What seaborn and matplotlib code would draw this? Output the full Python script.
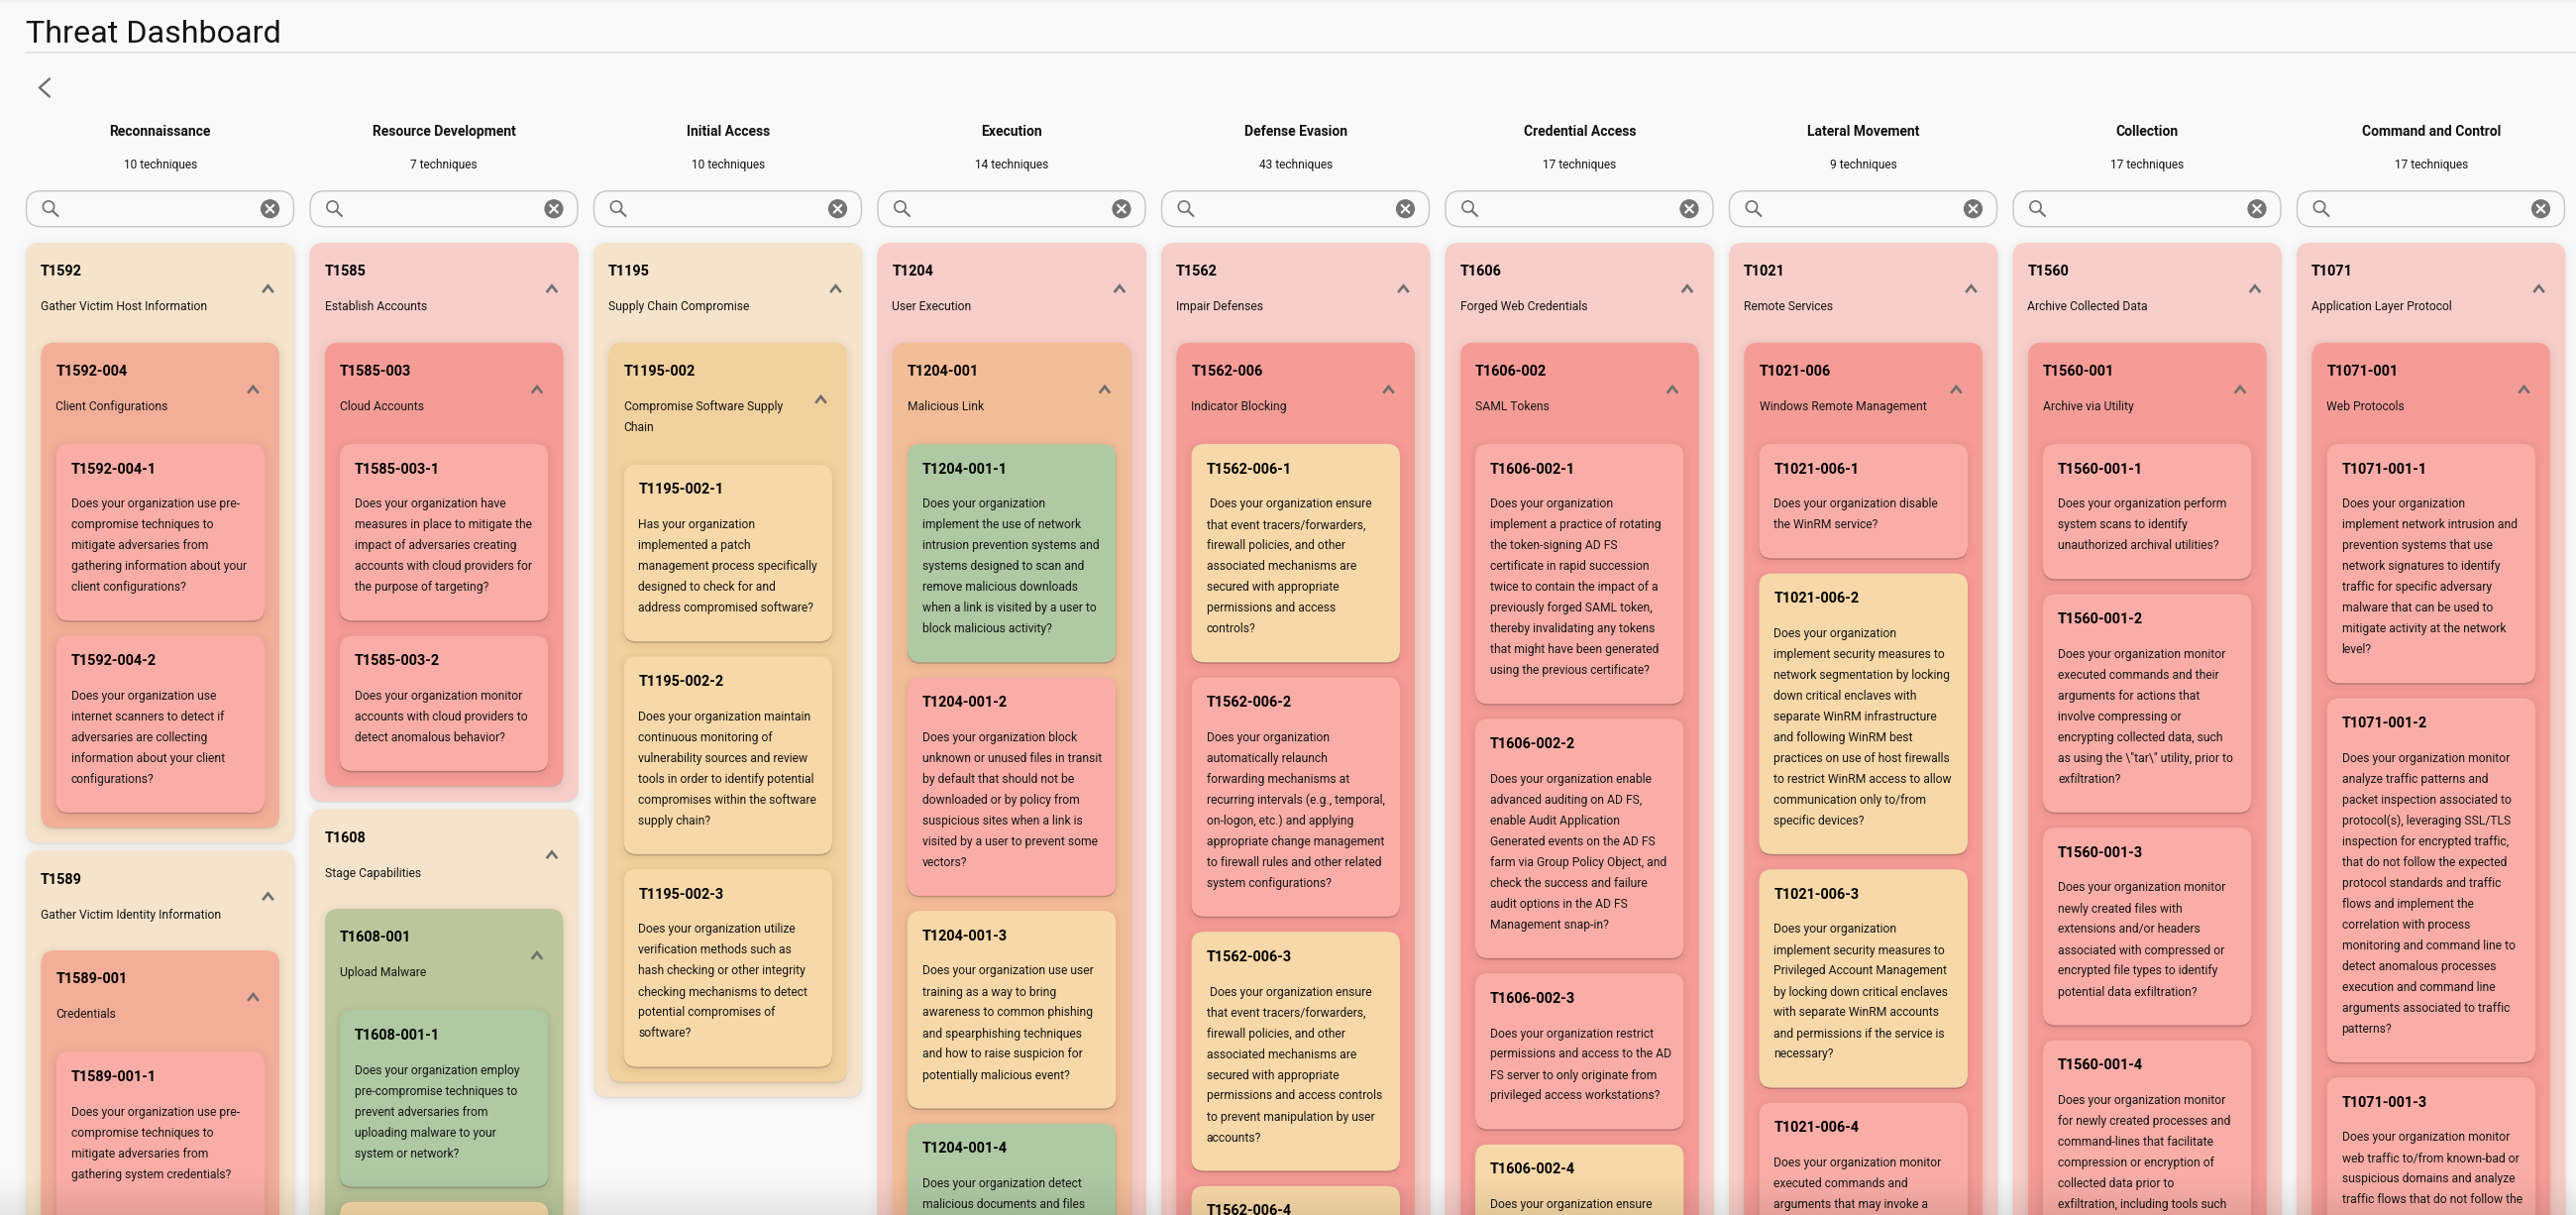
import numpy as np
import matplotlib
matplotlib.use("Agg")
import matplotlib.pyplot as plt
from matplotlib.patches import FancyBboxPatch, Circle
import seaborn as sns

# ---------------- data ----------------
TACTICS = ["Reconnaissance", "Resource Development", "Initial Access", "Execution", "Defense Evasion",
           "Credential Access", "Lateral Movement", "Collection", "Command and Control"]
TECHNIQUE_COUNTS = [10, 7, 10, 14, 43, 17, 9, 17, 17]

PAGE_TITLE = "Threat Dashboard"

# (id, rating, name, [(sub id, rating, [name lines], [(question id, rating, [text lines])])])
RECON = [
    ("T1592", "med", "Gather Victim Host Information", [
        ("T1592-004", "salmon", ["Client Configurations"], [
            ("T1592-004-1", "high", ["Does your organization use pre-", "compromise techniques to", "mitigate adversaries from",
                                     "gathering information about your", "client configurations?"]),
            ("T1592-004-2", "high", ["Does your organization use", "internet scanners to detect if", "adversaries are collecting",
                                     "information about your client", "configurations?"]),
        ]),
    ]),
    ("T1589", "med", "Gather Victim Identity Information", [
        ("T1589-001", "salmon", ["Credentials"], [
            ("T1589-001-1", "high", ["Does your organization use pre-", "compromise techniques to", "mitigate adversaries from",
                                     "gathering system credentials?"]),
        ]),
    ]),
]
RESOURCE = [
    ("T1585", "high", "Establish Accounts", [
        ("T1585-003", "red", ["Cloud Accounts"], [
            ("T1585-003-1", "high", ["Does your organization have", "measures in place to mitigate the", "impact of adversaries creating",
                                     "accounts with cloud providers for", "the purpose of targeting?"]),
            ("T1585-003-2", "high", ["Does your organization monitor", "accounts with cloud providers to", "detect anomalous behavior?"]),
        ]),
    ]),
    ("T1608", "med", "Stage Capabilities", [
        ("T1608-001", "khaki", ["Upload Malware"], [
            ("T1608-001-1", "low", ["Does your organization employ", "pre-compromise techniques to", "prevent adversaries from",
                                    "uploading malware to your", "system or network?"]),
            ("T1608-001-2", "med", []),
        ]),
    ]),
]
INITIAL = [
    ("T1195", "med", "Supply Chain Compromise", [
        ("T1195-002", "amber", ["Compromise Software Supply", "Chain"], [
            ("T1195-002-1", "med", ["Has your organization", "implemented a patch", "management process specifically",
                                    "designed to check for and", "address compromised software?"]),
            ("T1195-002-2", "med", ["Does your organization maintain", "continuous monitoring of", "vulnerability sources and review",
                                    "tools in order to identify potential", "compromises within the software", "supply chain?"]),
            ("T1195-002-3", "med", ["Does your organization utilize", "verification methods such as", "hash checking or other integrity",
                                    "checking mechanisms to detect", "potential compromises of", "software?"]),
        ]),
    ]),
]
EXECUTION = [
    ("T1204", "high", "User Execution", [
        ("T1204-001", "peach", ["Malicious Link"], [
            ("T1204-001-1", "low", ["Does your organization", "implement the use of network", "intrusion prevention systems and",
                                    "systems designed to scan and", "remove malicious downloads", "when a link is visited by a user to",
                                    "block malicious activity?"]),
            ("T1204-001-2", "high", ["Does your organization block", "unknown or unused files in transit", "by default that should not be",
                                     "downloaded or by policy from", "suspicious sites when a link is", "visited by a user to prevent some",
                                     "vectors?"]),
            ("T1204-001-3", "med", ["Does your organization use user", "training as a way to bring", "awareness to common phishing",
                                    "and spearphishing techniques", "and how to raise suspicion for", "potentially malicious event?"]),
            ("T1204-001-4", "low", ["Does your organization detect", "malicious documents and files"]),
        ]),
    ]),
]
EVASION = [
    ("T1562", "high", "Impair Defenses", [
        ("T1562-006", "red", ["Indicator Blocking"], [
            ("T1562-006-1", "med", [" Does your organization ensure", "that event tracers/forwarders,", "firewall policies, and other",
                                    "associated mechanisms are", "secured with appropriate", "permissions and access", "controls?"]),
            ("T1562-006-2", "high", ["Does your organization", "automatically relaunch", "forwarding mechanisms at",
                                     "recurring intervals (e.g., temporal,", "on-logon, etc.) and applying", "appropriate change management",
                                     "to firewall rules and other related", "system configurations?"]),
            ("T1562-006-3", "med", [" Does your organization ensure", "that event tracers/forwarders,", "firewall policies, and other",
                                    "associated mechanisms are", "secured with appropriate", "permissions and access controls",
                                    "to prevent manipulation by user", "accounts?"]),
            ("T1562-006-4", "med", []),
        ]),
    ]),
]
CREDENTIAL = [
    ("T1606", "high", "Forged Web Credentials", [
        ("T1606-002", "red", ["SAML Tokens"], [
            ("T1606-002-1", "high", ["Does your organization", "implement a practice of rotating", "the token-signing AD FS",
                                     "certificate in rapid succession", "twice to contain the impact of a", "previously forged SAML token,",
                                     "thereby invalidating any tokens", "that might have been generated", "using the previous certificate?"]),
            ("T1606-002-2", "high", ["Does your organization enable", "advanced auditing on AD FS,", "enable Audit Application",
                                     "Generated events on the AD FS", "farm via Group Policy Object, and", "check the success and failure",
                                     "audit options in the AD FS", "Management snap-in?"]),
            ("T1606-002-3", "high", ["Does your organization restrict", "permissions and access to the AD", "FS server to only originate from",
                                     "privileged access workstations?"]),
            ("T1606-002-4", "med", ["Does your organization ensure"]),
        ]),
    ]),
]
LATERAL = [
    ("T1021", "high", "Remote Services", [
        ("T1021-006", "red", ["Windows Remote Management"], [
            ("T1021-006-1", "high", ["Does your organization disable", "the WinRM service?"]),
            ("T1021-006-2", "med", ["Does your organization", "implement security measures to", "network segmentation by locking",
                                    "down critical enclaves with", "separate WinRM infrastructure", "and following WinRM best",
                                    "practices on use of host firewalls", "to restrict WinRM access to allow",
                                    "communication only to/from", "specific devices?"]),
            ("T1021-006-3", "med", ["Does your organization", "implement security measures to", "Privileged Account Management",
                                    "by locking down critical enclaves", "with separate WinRM accounts",
                                    "and permissions if the service is", "necessary?"]),
            ("T1021-006-4", "high", ["Does your organization monitor", "executed commands and", "arguments that may invoke a"]),
        ]),
    ]),
]
COLLECTION = [
    ("T1560", "high", "Archive Collected Data", [
        ("T1560-001", "red", ["Archive via Utility"], [
            ("T1560-001-1", "high", ["Does your organization perform", "system scans to identify", "unauthorized archival utilities?"]),
            ("T1560-001-2", "high", ["Does your organization monitor", "executed commands and their", "arguments for actions that",
                                     "involve compressing or", "encrypting collected data, such",
                                     'as using the \\"tar\\" utility, prior to', "exfiltration?"]),
            ("T1560-001-3", "high", ["Does your organization monitor", "newly created files with", "extensions and/or headers",
                                     "associated with compressed or", "encrypted file types to identify", "potential data exfiltration?"]),
            ("T1560-001-4", "high", ["Does your organization monitor", "for newly created processes and", "command-lines that facilitate",
                                     "compression or encryption of", "collected data prior to", "exfiltration, including tools such"]),
        ]),
    ]),
]
COMMAND = [
    ("T1071", "high", "Application Layer Protocol", [
        ("T1071-001", "red", ["Web Protocols"], [
            ("T1071-001-1", "high", ["Does your organization", "implement network intrusion and", "prevention systems that use",
                                     "network signatures to identify", "traffic for specific adversary", "malware that can be used to",
                                     "mitigate activity at the network", "level?"]),
            ("T1071-001-2", "high", ["Does your organization monitor", "analyze traffic patterns and", "packet inspection associated to",
                                     "protocol(s), leveraging SSL/TLS", "inspection for encrypted traffic,", "that do not follow the expected",
                                     "protocol standards and traffic", "flows and implement the", "correlation with process",
                                     "monitoring and command line to", "detect anomalous processes", "execution and command line",
                                     "arguments associated to traffic", "patterns?"]),
            ("T1071-001-3", "high", ["Does your organization monitor", "web traffic to/from known-bad or", "suspicious domains and analyze",
                                     "traffic flows that do not follow the"]),
        ]),
    ]),
]
COLUMNS = [RECON, RESOURCE, INITIAL, EXECUTION, EVASION, CREDENTIAL, LATERAL, COLLECTION, COMMAND]
# question cards that run past the bottom of the page
RUNS_OFF_PAGE = {"T1608-001-2", "T1204-001-4", "T1562-006-4", "T1606-002-4", "T1021-006-4", "T1560-001-4", "T1071-001-3", "T1589-001-1"}

# ---------------- styles ----------------
BG = "#f9f9f9"
L1_COLORS = {"med": "#f6e3cb", "high": "#f7cec9"}
L2_COLORS = {"salmon": "#f3ae99", "red": "#f59c97", "amber": "#f1d19e", "khaki": "#bcc69b", "peach": "#f2bd98"}
L3_COLORS = {"high": "#faada7", "med": "#f7d8a8", "low": "#aec9a4"}
GRAY = "#6f6f6f"
FONT = "Roboto"
BODY_PT = 8.7
TITLE_PT = 10.4

sns.set_theme(style="white")
plt.rcParams["font.family"] = [FONT, "DejaVu Sans"]
W, H = 2600, 1226
fig = plt.figure(figsize=(W / 100, H / 100), dpi=100, facecolor=BG)
ax = fig.add_axes([0, 0, 1, 1], facecolor=BG)
ax.set_xlim(0, W)
ax.set_ylim(H, 0)
ax.set_xticks([])
ax.set_yticks([])
sns.despine(ax=ax, left=True, bottom=True)

COL0, COL_STEP, CARD_W = 26.0, 286.5, 271.5
LINE = 21.0
GAP = 15.3
L1_TOP = 245.0


def box(x, y, w, h, r, fc, z, ec="none", lw=0, alpha=None):
    p = FancyBboxPatch((x, y), w, h, boxstyle=f"round,pad=0,rounding_size={r}", fc=fc, ec=ec, lw=lw,
                       alpha=alpha, zorder=z, mutation_aspect=1)
    ax.add_patch(p)


def card(x, y, w, h, r, fc, z, depth, edge):
    # soft drop shadow
    for grow, a in zip((8, 5.5, 3.5, 1.5), (0.006, 0.008, 0.010, 0.012)):
        box(x - grow, y - grow + 2, w + 2 * grow, h + 2 * grow, r + grow, "black", z, alpha=a * depth)
    box(x, y + 1.5, w, h, r, "black", z + 0.01, alpha=edge)
    box(x, y, w, h, r, fc, z + 0.02)


def chevron(cx, cy, z):
    ax.plot([cx - 5.3, cx, cx + 5.3], [cy + 3.5, cy - 3.2, cy + 3.5], color=GRAY, lw=1.9, zorder=z,
            solid_capstyle="butt", solid_joinstyle="miter")


def label(x, y, s, size, z, weight="normal", color="#161616", ha="left"):
    if y < H + 10:
        ax.text(x, y, s, fontsize=size, fontweight=weight, color=color, ha=ha, va="center", zorder=z, clip_on=True)


def q_height(q):
    return 2000 if q[0] in RUNS_OFF_PAGE else 73.3 + LINE * len(q[2])


def l2_height(t):
    return 102.3 + LINE * (len(t[2]) - 1) + sum(q_height(q) + GAP for q in t[3])


def l1_height(g):
    return 100.7 + sum(l2_height(t) + GAP for t in g[3])


# page header
label(COL0, 34.2, PAGE_TITLE, 23.2, 5, color="#141414")
ax.plot([COL0, W], [53, 53], color="#e2e2e2", lw=1.3, zorder=2)
ax.plot([50, 40, 50], [79.5, 88.5, 97.5], color=GRAY, lw=1.7, zorder=2, solid_joinstyle="miter")
top_fade = np.zeros((6, 1, 4))
top_fade[:, 0, 3] = np.linspace(0.03, 0, 6)
ax.imshow(top_fade, extent=(0, W, 5, 0), aspect="auto", zorder=1)

for i, (tactic, count, groups) in enumerate(zip(TACTICS, TECHNIQUE_COUNTS, COLUMNS)):
    x0 = COL0 + i * COL_STEP
    cx = x0 + CARD_W / 2
    label(cx, 133, tactic, 10.0, 3, weight="bold", ha="center", color="#111111")
    label(cx, 166.7, f"{count} techniques", 8.6, 3, ha="center")
    # search box
    box(x0 + 0.5, 192.7, CARD_W - 1.5, 36, 15, BG, 2, ec="#c6c6c6", lw=1.0)
    ax.add_patch(Circle((x0 + 23, 208.5), 5.6, fc="none", ec=GRAY, lw=1.2, zorder=3))
    ax.plot([x0 + 27, x0 + 32.5], [212.7, 218], color=GRAY, lw=1.5, zorder=3)
    clear_x = x0 + CARD_W - 25
    ax.add_patch(Circle((clear_x, 210.7), 9.6, fc="#747474", ec="none", zorder=3))
    ax.plot([clear_x - 3.8, clear_x + 3.8], [206.9, 214.5], color="white", lw=1.5, zorder=4)
    ax.plot([clear_x - 3.8, clear_x + 3.8], [214.5, 206.9], color="white", lw=1.5, zorder=4)

    y1 = L1_TOP
    for g_id, g_rate, g_name, subs in groups:
        z = 10
        h1 = l1_height((g_id, g_rate, g_name, subs))
        card(x0, y1, CARD_W, h1, 14, L1_COLORS[g_rate], z, 1, 0.06)
        label(x0 + 15, y1 + 29.3, g_id, TITLE_PT, z + 1, weight="bold", color="black")
        label(x0 + 15, y1 + 64.8, g_name, BODY_PT, z + 1)
        chevron(x0 + CARD_W - 27, y1 + 46.5, z + 1)
        y2 = y1 + 100.7
        for tech in subs:
            t_id, t_rate, t_lines, questions = tech
            z = 20
            h2 = l2_height(tech)
            card(x0 + 15.5, y2, CARD_W - 31, h2, 14, L2_COLORS[t_rate], z, 1.2, 0.09)
            label(x0 + 30.5, y2 + 29.3, t_id, TITLE_PT, z + 1, weight="bold", color="black")
            for k, ln in enumerate(t_lines):
                label(x0 + 30.5, y2 + 64.8 + k * LINE, ln, BODY_PT, z + 1)
            chevron(x0 + CARD_W - 42, y2 + 47.5 + (len(t_lines) - 1) * 10, z + 1)
            y3 = y2 + 102.3 + LINE * (len(t_lines) - 1)
            for q in questions:
                q_id, q_rate, q_lines = q
                z = 30
                hq = q_height(q)
                card(x0 + 30.5, y3, CARD_W - 61, hq, 13, L3_COLORS[q_rate], z, 1.0, 0.20)
                label(x0 + 45.5, y3 + 25.5, q_id, TITLE_PT, z + 1, weight="bold", color="black")
                for k, ln in enumerate(q_lines):
                    label(x0 + 45.5, y3 + 60.8 + k * LINE, ln, BODY_PT, z + 1)
                y3 += hq + GAP
            y2 += h2 + GAP
        y1 += h1 + 7.7

# fade along the bottom edge of the page
fade = np.zeros((60, 1, 4))
fade[:, 0, 3] = 0.085 * np.linspace(0, 1, 60) ** 1.4
ax.imshow(fade, extent=(0, W, H, H - 46), aspect="auto", zorder=100)
ax.set_xlim(0, W)
ax.set_ylim(H, 0)

fig.savefig("out.png", dpi=100, facecolor=BG)
